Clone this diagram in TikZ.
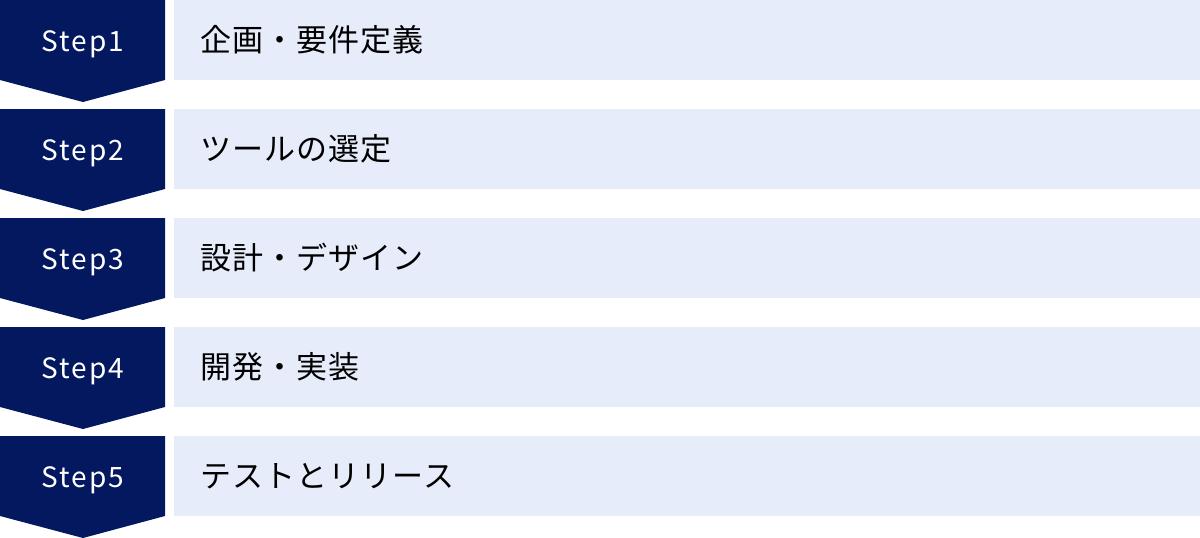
\documentclass[tikz,border=0pt]{standalone}
\usepackage{fontspec}
\setmainfont{Noto Sans CJK JP}
\newfontfamily\stepfont[LetterSpace=7]{Noto Sans CJK JP}
\newfontfamily\jpfont[LetterSpace=3.5]{Noto Sans CJK JP}
\definecolor{navy}{RGB}{4,24,96}
\definecolor{paleblue}{RGB}{230,236,249}
\tikzset{
  steplabel/.style={text=white, font=\stepfont\fontsize{28}{32}\selectfont, anchor=base, inner sep=0pt},
  tasklabel/.style={text=black, font=\jpfont\fontsize{31}{34}\selectfont, anchor=west, inner sep=0pt},
}
\begin{document}
\begin{tikzpicture}[x=1pt,y=-1pt]
\useasboundingbox (0,0) rectangle (1200,538);
\foreach \i/\t in {0/企画・要件定義,1/ツールの選定,2/設計・デザイン,3/開発・実装,4/テストとリリース}{
  \pgfmathsetmacro\yy{\i*109}
  \pgfmathtruncatemacro\n{\i+1}
  \fill[navy] (0,\yy) -- (165,\yy) -- (165,\yy+80) -- (83,\yy+102) -- (0,\yy+80) -- cycle;
  \fill[paleblue] (174,\yy) rectangle (1200,\yy+80);
  \node[steplabel] (s\n) at (83,\yy+51.5) {Step\n};
  \node[tasklabel] (t\n) at (200,\yy+40) {\t};
}
\end{tikzpicture}
\end{document}
